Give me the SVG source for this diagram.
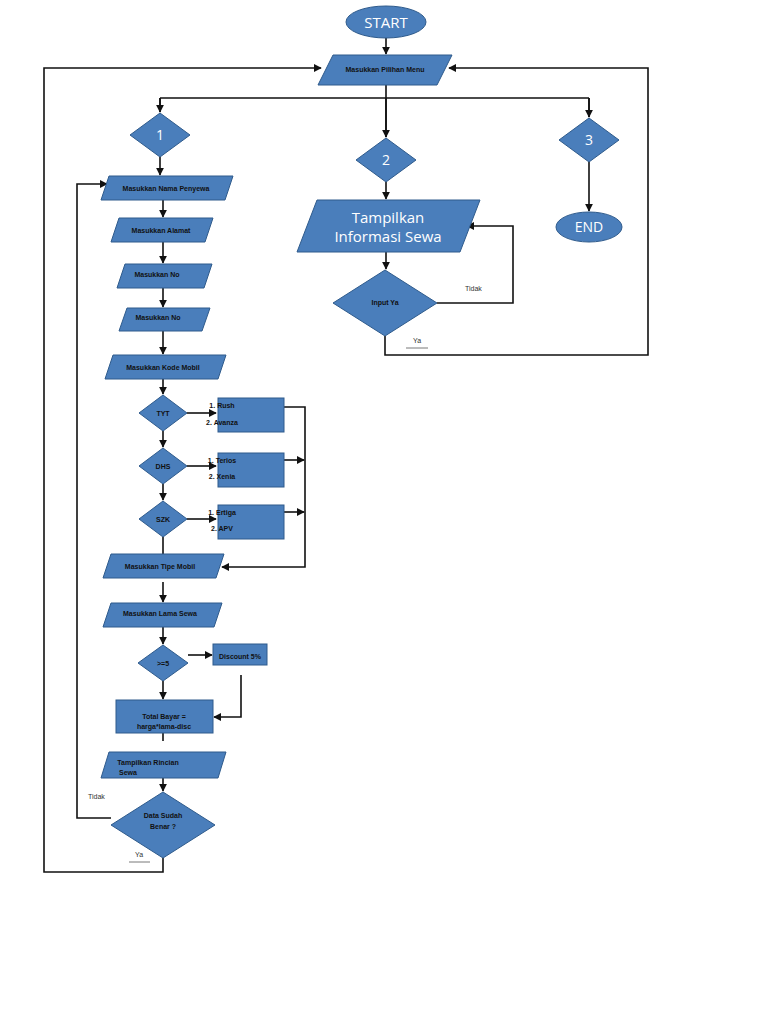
<svg xmlns="http://www.w3.org/2000/svg" width="768" height="1024" viewBox="0 0 768 1024">
<style>
.s{fill:#4a7ebb;stroke:#2f5b8c;stroke-width:1}
.t{font-family:"Liberation Sans",Arial,sans-serif;font-size:7px;font-weight:bold;fill:#111;text-anchor:middle}
.w{font-family:"Open Sans","Liberation Sans",sans-serif;fill:#fff;text-anchor:middle}
.l{fill:none;stroke:#111;stroke-width:1.6}
.n{font-family:"Liberation Sans",Arial,sans-serif;font-size:7px;fill:#333}
</style>
<defs><marker id="a" viewBox="0 0 10 10" refX="9" refY="5" markerWidth="5" markerHeight="5" orient="auto"><path d="M0,0L10,5L0,10z" fill="#111"/></marker></defs>
<rect width="768" height="1024" fill="#fff"/>
<g id="connectors" class="l">
<path d="M386,38V54" marker-end="url(#a)"/>
<path d="M386,85V98M160,98H589M160,98V112M386,98V137M589,98V117" />
<path d="M160,98V112" marker-end="url(#a)"/><path d="M386,98V137" marker-end="url(#a)"/><path d="M589,98V117" marker-end="url(#a)"/>
<path d="M589,162V211" marker-end="url(#a)"/>
<path d="M386,182V199" marker-end="url(#a)"/>
<path d="M386,252V269" marker-end="url(#a)"/>
<path d="M437,303H513V226H467" marker-end="url(#a)"/>
<path d="M385,336V355H648V68H449" marker-end="url(#a)"/>
<path d="M163,858V872H44V68H321" marker-end="url(#a)"/>
<path d="M111,818H77V184H107" marker-end="url(#a)"/>
<path d="M160,157V175" marker-end="url(#a)"/>
<path d="M163,200V217" marker-end="url(#a)"/>
<path d="M163,242V263" marker-end="url(#a)"/>
<path d="M163,288V307" marker-end="url(#a)"/>
<path d="M163,331V354" marker-end="url(#a)"/>
<path d="M163,379V394" marker-end="url(#a)"/>
<path d="M163,431V447" marker-end="url(#a)"/>
<path d="M163,484V500" marker-end="url(#a)"/>
<path d="M163,537V554"/>
<path d="M187,413H216" marker-end="url(#a)"/>
<path d="M187,466H216" marker-end="url(#a)"/>
<path d="M187,519H216" marker-end="url(#a)"/>
<path d="M284,407H305V567H222" marker-end="url(#a)"/>
<path d="M284,460H304" marker-end="url(#a)"/>
<path d="M284,512H304" marker-end="url(#a)"/>
<path d="M163,582V602" marker-end="url(#a)"/>
<path d="M163,627V644" marker-end="url(#a)"/>
<path d="M188,655H212" marker-end="url(#a)"/>
<path d="M163,681V699" marker-end="url(#a)"/>
<path d="M241,675V717H214" marker-end="url(#a)"/>
<path d="M163,733V741"/>
<path d="M163,778V791" marker-end="url(#a)"/>
</g>
<g id="start"><ellipse class="s" cx="386" cy="22" rx="40" ry="16"/><text class="w" x="386" y="28" font-size="15">START</text></g>
<g id="menu"><polygon class="s" points="333,55 452,55 437,85 318,85"/><text class="t" x="385" y="72">Masukkan Pilihan Menu</text></g>
<g id="d1"><polygon class="s" points="160,113 190,135 160,157 130,135"/><text class="w" x="160" y="140" font-size="14">1</text></g>
<g id="d2"><polygon class="s" points="386,138 416,160 386,182 356,160"/><text class="w" x="386" y="165" font-size="14">2</text></g>
<g id="d3"><polygon class="s" points="589,118 619,140 589,162 559,140"/><text class="w" x="589" y="145" font-size="14">3</text></g>
<g id="end"><ellipse class="s" cx="589" cy="227" rx="33" ry="15"/><text class="w" x="589" y="232" font-size="14">END</text></g>
<g id="info"><polygon class="s" points="317,200 480,200 460,252 297,252"/><text class="w" x="388" y="223" font-size="15">Tampilkan</text><text class="w" x="388" y="242" font-size="15">Informasi Sewa</text></g>
<g id="inputya"><polygon class="s" points="385,270 437,303 385,336 333,303"/><text class="t" x="385" y="305" font-weight="normal">Input Ya</text></g>
<text class="n" x="465" y="291">Tidak</text>
<text class="n" x="413" y="343">Ya</text><path d="M406,348H428" stroke="#555" stroke-width="0.8"/>
<g id="nama"><polygon class="s" points="109,176 233,176 225,200 101,200"/><text class="t" x="166" y="191">Masukkan  Nama Penyewa</text></g>
<g id="alamat"><polygon class="s" points="119,218 213,218 205,242 111,242"/><text class="t" x="161" y="233">Masukkan  Alamat</text></g>
<g id="ktp"><polygon class="s" points="125,264 212,264 204,288 117,288"/><text class="t" x="157" y="277">Masukkan  No</text></g>
<g id="hp"><polygon class="s" points="127,308 210,308 202,331 119,331"/><text class="t" x="158" y="320">Masukkan  No</text></g>
<g id="kode"><polygon class="s" points="113,355 226,355 218,379 105,379"/><text class="t" x="163" y="370">Masukkan  Kode Mobil</text></g>
<g id="tyt"><polygon class="s" points="163,395 187,413 163,431 139,413"/><text class="t" x="163" y="416" fill="#fff">TYT</text></g>
<g id="dhs"><polygon class="s" points="163,448 187,466 163,484 139,466"/><text class="t" x="163" y="469" fill="#fff">DHS</text></g>
<g id="szk"><polygon class="s" points="163,501 187,519 163,537 139,519"/><text class="t" x="163" y="522" fill="#fff">SZK</text></g>
<g id="toyota"><rect class="s" x="218" y="398" width="66" height="34"/><text class="t" x="222" y="408" text-anchor="start">1.  Rush</text><text class="t" x="222" y="425" text-anchor="start">2.  Avanza</text></g>
<g id="daihatsu"><rect class="s" x="218" y="453" width="66" height="34"/><text class="t" x="222" y="463" text-anchor="start">1.  Terios</text><text class="t" x="222" y="479" text-anchor="start">2.  Xenia</text></g>
<g id="suzuki"><rect class="s" x="218" y="505" width="66" height="34"/><text class="t" x="222" y="515" text-anchor="start">1.  Ertiga</text><text class="t" x="222" y="531" text-anchor="start">2.  APV</text></g>
<g id="tipe"><polygon class="s" points="111,554 224,554 216,578 103,578"/><text class="t" x="160" y="569">Masukkan Tipe Mobil</text></g>
<g id="lama"><polygon class="s" points="111,603 222,603 214,627 103,627"/><text class="t" x="160" y="616">Masukkan Lama Sewa</text></g>
<g id="ge5"><polygon class="s" points="163,645 188,663 163,681 138,663"/><text class="t" x="163" y="666">&gt;=5</text></g>
<g id="disc"><rect class="s" x="213" y="644" width="54" height="21"/><text class="t" x="240" y="659">Discount 5%</text></g>
<g id="total"><rect class="s" x="116" y="700" width="97" height="33"/><text class="t" x="164" y="719">Total Bayar =</text><text class="t" x="164" y="729">harga*lama-disc</text></g>
<g id="rincian"><polygon class="s" points="109,752 226,752 218,778 101,778"/><text class="t" x="148" y="765">Tampilkan Rincian</text><text class="t" x="128" y="775">Sewa</text></g>
<g id="benar"><polygon class="s" points="163,792 215,825 163,858 111,825"/><text class="t" x="163" y="818">Data Sudah</text><text class="t" x="163" y="829">Benar ?</text></g>
<text class="n" x="88" y="799">Tidak</text>
<text class="n" x="135" y="857">Ya</text><path d="M129,862H150" stroke="#555" stroke-width="0.8"/>
</svg>
